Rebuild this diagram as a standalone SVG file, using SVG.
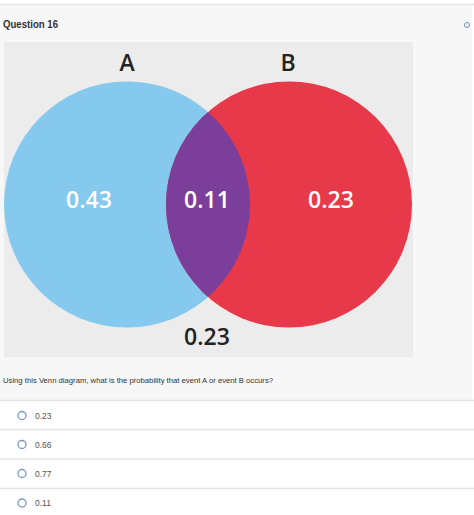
<svg xmlns="http://www.w3.org/2000/svg" width="474" height="515" viewBox="0 0 474 515">
<style>
.ui{font-family:"Liberation Sans",Arial,sans-serif;fill:#333}
.big{font-family:"Open Sans","Liberation Sans",sans-serif;font-weight:600;font-size:23px;text-anchor:middle}
.lbl{font-family:"Open Sans","Liberation Sans",sans-serif;font-weight:600;font-size:23px;text-anchor:middle;fill:#222}
.sep{stroke:#e4e4e4;stroke-width:1.5}
.radio{fill:#fff;stroke:#7d97c4;stroke-width:1.3}
.opt{font-family:"Liberation Sans",Arial,sans-serif;font-size:8.5px;fill:#555}
</style>
<defs>
<clipPath id="clipA"><circle cx="127" cy="204.5" r="123"/></clipPath>
</defs>
<rect x="0" y="0" width="474" height="515" fill="#fff"/>
<rect x="0" y="5" width="472" height="395" fill="#f7f7f7"/>
<line x1="0" y1="4.5" x2="474" y2="4.5" class="sep"/>
<text x="3" y="28" class="ui" font-size="10" font-weight="bold" textLength="55" lengthAdjust="spacingAndGlyphs">Question 16</text>
<circle cx="467" cy="25" r="2.5" fill="none" stroke="#6f8fc0" stroke-width="1"/>
<rect x="4" y="42" width="409" height="315" fill="#ececec"/>
<g id="circleA"><circle cx="127" cy="204.5" r="123" fill="#85c9ee"/></g>
<g id="circleB"><circle cx="289" cy="204.5" r="123" fill="#e8394b"/></g>
<g id="intersection"><circle cx="289" cy="204.5" r="123" fill="#7b3f9b" clip-path="url(#clipA)"/></g>
<g id="labels">
<text x="127" y="71" class="lbl">A</text>
<text x="288" y="71" class="lbl">B</text>
<text x="89" y="208" class="big" fill="#fff">0.43</text>
<text x="207" y="208" class="big" fill="#fff">0.11</text>
<text x="331" y="208" class="big" fill="#fff">0.23</text>
<text x="207" y="345" class="big" fill="#222">0.23</text>
</g>
<text x="3" y="383" class="ui" font-size="7.5" textLength="270" lengthAdjust="spacingAndGlyphs">Using this Venn diagram, what is the probability that event A or event B occurs?</text>
<line x1="0" y1="400.5" x2="474" y2="400.5" class="sep"/>
<line x1="0" y1="429.5" x2="474" y2="429.5" class="sep"/>
<line x1="0" y1="459" x2="474" y2="459" class="sep"/>
<line x1="0" y1="488.5" x2="474" y2="488.5" class="sep"/>
<g id="opt1"><circle cx="22" cy="415.5" r="4" class="radio"/><text x="35" y="418.5" class="opt">0.23</text></g>
<g id="opt2"><circle cx="22" cy="444.5" r="4" class="radio"/><text x="35" y="447.5" class="opt">0.66</text></g>
<g id="opt3"><circle cx="22" cy="473.5" r="4" class="radio"/><text x="35" y="476.5" class="opt">0.77</text></g>
<g id="opt4"><circle cx="22" cy="503" r="4" class="radio"/><text x="35" y="506" class="opt">0.11</text></g>
</svg>
